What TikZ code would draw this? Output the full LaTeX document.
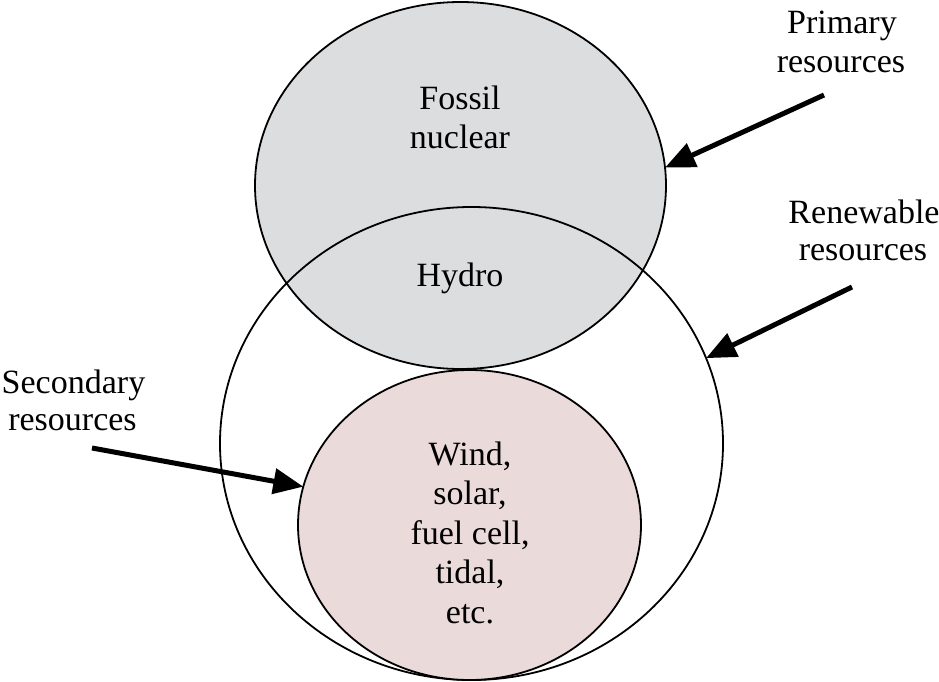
\documentclass[tikz,border=0pt]{standalone}
\usepackage{fontspec}
\setmainfont{Liberation Serif}
\usetikzlibrary{shapes.geometric,arrows.meta}
\definecolor{grayfill}{RGB}{220,221,223}
\definecolor{pinkfill}{RGB}{235,218,218}
\begin{document}
\begin{tikzpicture}[x=1pt,y=-1pt,
  blob/.style={ellipse,draw=black,line width=1.8pt,inner sep=0pt,outer sep=0pt},
  lbl/.style={anchor=base,inner sep=0pt,font=\fontsize{34}{40}\selectfont},
  pointer/.style={line width=5pt,-{Triangle[length=30pt,width=25pt]}}]
\useasboundingbox (0,0) rectangle (939,682);
% ellipses
\node[blob,fill=grayfill,minimum width=411pt,minimum height=367pt] (prim) at (460.5,185.5) {};
\node[blob,minimum width=503pt,minimum height=473pt] (renew) at (471.5,443.5) {};
\node[blob,fill=pinkfill,minimum width=343pt,minimum height=310pt] (sec) at (469.5,525) {};
% texts inside
\node[lbl] (t1) at (460,110) {Fossil};
\node[lbl] (t2) at (460,149) {nuclear};
\node[lbl] (t3) at (460,286) {Hydro};
\node[lbl] (w1) at (470,465) {Wind,};
\node[lbl] (w2) at (470,504) {solar,};
\node[lbl] (w3) at (470,544) {fuel cell,};
\node[lbl] (w4) at (470,583) {tidal,};
\node[lbl] (w5) at (470,623) {etc.};
% outer labels
\node[lbl] (p1) at (842,34) {Primary};
\node[lbl] (p2) at (841,73) {resources};
\node[lbl] (r1) at (864,223) {Renewable};
\node[lbl] (r2) at (863,260) {resources};
\node[lbl] (s1) at (73.5,393) {Secondary};
\node[lbl] (s2) at (72.5,430) {resources};
% arrows
\coordinate (pa) at (824,95);
\coordinate (ra) at (852,287);
\coordinate (sa) at (92,448);
\draw[pointer] (pa) -- (prim.5.6);
\draw[pointer] (ra) -- (renew.20.6);
\draw[pointer] (sa) -- (sec.167.5);
\end{tikzpicture}
\end{document}
